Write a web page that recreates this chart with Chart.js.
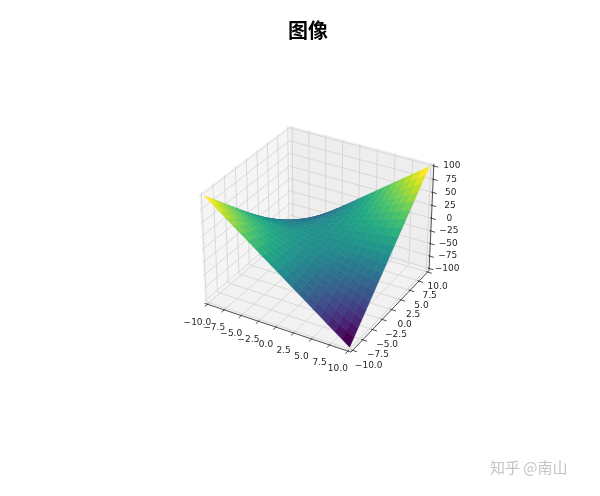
<!DOCTYPE html>
<html>
<head>
<meta charset="utf-8">
<script src="https://cdn.jsdelivr.net/npm/chart.js@4.4.1/dist/chart.umd.min.js"></script>
<style>
  html, body { margin: 0; padding: 0; background: #fff; }
</style>
</head>
<body>
<canvas id="surface-chart" width="600" height="496"></canvas>
<script>
// surface grid: zValues[j][i] is the height at x = xValues[i], y = yValues[j]
const xValues = [-10, -9, -8, -7, -6, -5, -4, -3, -2, -1, 0, 1, 2, 3, 4, 5, 6, 7, 8, 9, 10];
const yValues = [-10, -9, -8, -7, -6, -5, -4, -3, -2, -1, 0, 1, 2, 3, 4, 5, 6, 7, 8, 9, 10];
const zValues = [
  [100, 90, 80, 70, 60, 50, 40, 30, 20, 10, 0, -10, -20, -30, -40, -50, -60, -70, -80, -90, -100],
  [90, 81, 72, 63, 54, 45, 36, 27, 18, 9, 0, -9, -18, -27, -36, -45, -54, -63, -72, -81, -90],
  [80, 72, 64, 56, 48, 40, 32, 24, 16, 8, 0, -8, -16, -24, -32, -40, -48, -56, -64, -72, -80],
  [70, 63, 56, 49, 42, 35, 28, 21, 14, 7, 0, -7, -14, -21, -28, -35, -42, -49, -56, -63, -70],
  [60, 54, 48, 42, 36, 30, 24, 18, 12, 6, 0, -6, -12, -18, -24, -30, -36, -42, -48, -54, -60],
  [50, 45, 40, 35, 30, 25, 20, 15, 10, 5, 0, -5, -10, -15, -20, -25, -30, -35, -40, -45, -50],
  [40, 36, 32, 28, 24, 20, 16, 12, 8, 4, 0, -4, -8, -12, -16, -20, -24, -28, -32, -36, -40],
  [30, 27, 24, 21, 18, 15, 12, 9, 6, 3, 0, -3, -6, -9, -12, -15, -18, -21, -24, -27, -30],
  [20, 18, 16, 14, 12, 10, 8, 6, 4, 2, 0, -2, -4, -6, -8, -10, -12, -14, -16, -18, -20],
  [10, 9, 8, 7, 6, 5, 4, 3, 2, 1, 0, -1, -2, -3, -4, -5, -6, -7, -8, -9, -10],
  [0, 0, 0, 0, 0, 0, 0, 0, 0, 0, 0, 0, 0, 0, 0, 0, 0, 0, 0, 0, 0],
  [-10, -9, -8, -7, -6, -5, -4, -3, -2, -1, 0, 1, 2, 3, 4, 5, 6, 7, 8, 9, 10],
  [-20, -18, -16, -14, -12, -10, -8, -6, -4, -2, 0, 2, 4, 6, 8, 10, 12, 14, 16, 18, 20],
  [-30, -27, -24, -21, -18, -15, -12, -9, -6, -3, 0, 3, 6, 9, 12, 15, 18, 21, 24, 27, 30],
  [-40, -36, -32, -28, -24, -20, -16, -12, -8, -4, 0, 4, 8, 12, 16, 20, 24, 28, 32, 36, 40],
  [-50, -45, -40, -35, -30, -25, -20, -15, -10, -5, 0, 5, 10, 15, 20, 25, 30, 35, 40, 45, 50],
  [-60, -54, -48, -42, -36, -30, -24, -18, -12, -6, 0, 6, 12, 18, 24, 30, 36, 42, 48, 54, 60],
  [-70, -63, -56, -49, -42, -35, -28, -21, -14, -7, 0, 7, 14, 21, 28, 35, 42, 49, 56, 63, 70],
  [-80, -72, -64, -56, -48, -40, -32, -24, -16, -8, 0, 8, 16, 24, 32, 40, 48, 56, 64, 72, 80],
  [-90, -81, -72, -63, -54, -45, -36, -27, -18, -9, 0, 9, 18, 27, 36, 45, 54, 63, 72, 81, 90],
  [-100, -90, -80, -70, -60, -50, -40, -30, -20, -10, 0, 10, 20, 30, 40, 50, 60, 70, 80, 90, 100]
];

// axis ticks
const xTicks = [-10, -7.5, -5, -2.5, 0, 2.5, 5, 7.5, 10];
const yTicks = [-10, -7.5, -5, -2.5, 0, 2.5, 5, 7.5, 10];
const zTicks = [-100, -75, -50, -25, 0, 25, 50, 75, 100];
const xTickLabels = ['−10.0', '−7.5', '−5.0', '−2.5', '0.0', '2.5', '5.0', '7.5', '10.0'];
const yTickLabels = ['−10.0', '−7.5', '−5.0', '−2.5', '0.0', '2.5', '5.0', '7.5', '10.0'];
const zTickLabels = ['−100', '−75', '−50', '−25', '0', '25', '50', '75', '100'];
const xLim = [-10, 10], yLim = [-10, 10], zLim = [-100, 100];

// viridis
const viridis = ['#440154', '#482475', '#414487', '#355f8d', '#2a788e', '#21918c',
                 '#22a884', '#44bf70', '#7ad151', '#bddf26', '#fde725'];
function hexRgb(h) {
    return [parseInt(h.slice(1, 3), 16), parseInt(h.slice(3, 5), 16), parseInt(h.slice(5, 7), 16)];
}
function cmap(t) {
    t = Math.min(1, Math.max(0, t));
    const p = t * 10, i = Math.min(9, Math.floor(p)), f = p - i;
    const a = hexRgb(viridis[i]), b = hexRgb(viridis[i + 1]);
    return 'rgb(' + a.map((c, k) => Math.round(c + (b[k] - c) * f)).join(',') + ')';
}

// 3d view (elev / azim like matplotlib, slight perspective)
const view = { elev: 31, azim: -60, dist: 17.5, scale: 84, cx: 319, cy: 234 };
const aspect = [1, 1, 0.75];
function padLim(lim) { const d = (lim[1] - lim[0]) / 48; return [lim[0] - d, lim[1] + d]; }
const xb = padLim(xLim), yb = padLim(yLim), zb = padLim(zLim);

const e = view.elev * Math.PI / 180, a = view.azim * Math.PI / 180;
const w = [Math.cos(e) * Math.cos(a), Math.cos(e) * Math.sin(a), Math.sin(e)];
const u = [-Math.sin(a), Math.cos(a), 0];
const v = [-Math.sin(e) * Math.cos(a), -Math.sin(e) * Math.sin(a), Math.cos(e)];

function norm3(x, y, z) {
    return [
        (2 * (x - xb[0]) / (xb[1] - xb[0]) - 1) * aspect[0],
        (2 * (y - yb[0]) / (yb[1] - yb[0]) - 1) * aspect[1],
        (2 * (z - zb[0]) / (zb[1] - zb[0]) - 1) * aspect[2]
    ];
}
const dot = (p, q) => p[0] * q[0] + p[1] * q[1] + p[2] * q[2];
function depthOf(x, y, z) { return view.dist - dot(norm3(x, y, z), w); }
function project(x, y, z) {
    const P = norm3(x, y, z);
    const f = view.dist / (view.dist - dot(P, w));
    return { x: view.cx + view.scale * f * dot(P, u), y: view.cy - view.scale * f * dot(P, v) };
}

const datasets = [];
function addPath(pts3, opts) {
    datasets.push(Object.assign({
        data: pts3.map(p => project(p[0], p[1], p[2])),
        showLine: true,
        fill: false,
        pointRadius: 0,
        pointHoverRadius: 0,
        tension: 0,
        borderWidth: 0.8,
        borderColor: '#000'
    }, opts));
}

// panes
const paneFloor = [[xb[0], yb[0], zb[0]], [xb[1], yb[0], zb[0]], [xb[1], yb[1], zb[0]], [xb[0], yb[1], zb[0]], [xb[0], yb[0], zb[0]]];
const paneLeft = [[xb[0], yb[0], zb[0]], [xb[0], yb[1], zb[0]], [xb[0], yb[1], zb[1]], [xb[0], yb[0], zb[1]], [xb[0], yb[0], zb[0]]];
const paneBack = [[xb[0], yb[1], zb[0]], [xb[1], yb[1], zb[0]], [xb[1], yb[1], zb[1]], [xb[0], yb[1], zb[1]], [xb[0], yb[1], zb[0]]];
addPath(paneLeft, { fill: 'shape', backgroundColor: '#f5f5f5', borderColor: '#f5f5f5', borderWidth: 0, order: 30000 });
addPath(paneBack, { fill: 'shape', backgroundColor: '#eeeeee', borderColor: '#eeeeee', borderWidth: 0, order: 30000 });
addPath(paneFloor, { fill: 'shape', backgroundColor: '#f2f2f2', borderColor: '#f2f2f2', borderWidth: 0, order: 30000 });

// grid lines
const gridStyle = { borderColor: '#d2d2d2', borderWidth: 0.8, order: 20000 };
xTicks.forEach(t => {
    addPath([[t, yb[0], zb[0]], [t, yb[1], zb[0]]], gridStyle);
    addPath([[t, yb[1], zb[0]], [t, yb[1], zb[1]]], gridStyle);
});
yTicks.forEach(t => {
    addPath([[xb[0], t, zb[0]], [xb[1], t, zb[0]]], gridStyle);
    addPath([[xb[0], t, zb[0]], [xb[0], t, zb[1]]], gridStyle);
});
zTicks.forEach(t => {
    addPath([[xb[0], yb[0], t], [xb[0], yb[1], t]], gridStyle);
    addPath([[xb[0], yb[1], t], [xb[1], yb[1], t]], gridStyle);
});

// axis lines and tick marks
const axisStyle = { borderColor: '#222', borderWidth: 0.8, order: 10000 };
addPath([[xb[0], yb[0], zb[0]], [xb[1], yb[0], zb[0]]], axisStyle);
addPath([[xb[1], yb[0], zb[0]], [xb[1], yb[1], zb[0]]], axisStyle);
addPath([[xb[1], yb[1], zb[0]], [xb[1], yb[1], zb[1]]], axisStyle);
xTicks.forEach(t => addPath([[t, yb[0] + 0.2, zb[0]], [t, yb[0] - 0.6, zb[0]]], axisStyle));
yTicks.forEach(t => addPath([[xb[1] - 0.2, t, zb[0]], [xb[1] + 0.6, t, zb[0]]], axisStyle));
zTicks.forEach(t => addPath([[xb[1] - 0.2, yb[1], t], [xb[1] + 0.6, yb[1], t]], axisStyle));

// surface faces, coloured by mean height, far faces drawn first
const faces = [];
for (let j = 0; j < yValues.length - 1; j++) {
    for (let i = 0; i < xValues.length - 1; i++) {
        const c = [[i, j], [i + 1, j], [i + 1, j + 1], [i, j + 1]]
            .map(([ii, jj]) => [xValues[ii], yValues[jj], zValues[jj][ii]]);
        faces.push({
            pts: c.concat([c[0]]),
            zMean: c.reduce((s, p) => s + p[2], 0) / 4,
            depth: c.reduce((s, p) => s + depthOf(p[0], p[1], p[2]), 0) / 4
        });
    }
}
const zMin = Math.min(...faces.map(f => f.zMean)), zMax = Math.max(...faces.map(f => f.zMean));
faces.sort((p, q) => q.depth - p.depth);
faces.forEach((f, k) => {
    const col = cmap((f.zMean - zMin) / (zMax - zMin));
    addPath(f.pts, { fill: 'shape', backgroundColor: col, borderColor: col, borderWidth: 0.5, order: faces.length - k });
});

// tick labels and watermark
const textPlugin = {
    id: 'axisText',
    afterDatasetsDraw(chart) {
        const { ctx, scales: { x: sx, y: sy } } = chart;
        const px = p => [sx.getPixelForValue(p.x), sy.getPixelForValue(p.y)];
        ctx.save();
        ctx.font = '9px "DejaVu Sans"';
        ctx.fillStyle = '#262626';
        ctx.textAlign = 'center';
        ctx.textBaseline = 'middle';
        xTicks.forEach((t, i) => {
            const [X, Y] = px(project(t, yb[0], zb[0]));
            ctx.fillText(xTickLabels[i], X - 10, Y + 18);
        });
        yTicks.forEach((t, i) => {
            const [X, Y] = px(project(xb[1], t, zb[0]));
            const k = i / (yTicks.length - 1);
            ctx.fillText(yTickLabels[i], X + 16 - 6 * k, Y + 15);
        });
        zTicks.forEach((t, i) => {
            const [X, Y] = px(project(xb[1], yb[1], t));
            ctx.fillText(zTickLabels[i], X + 18, Y);
        });
        ctx.font = '15px "Noto Sans CJK SC"';
        ctx.fillStyle = '#c4c4c4';
        ctx.textAlign = 'left';
        ctx.fillText('知乎 @南山', 490, 467);
        ctx.restore();
    }
};

const ctx = document.getElementById('surface-chart');
const chart = new Chart(ctx, {
    type: 'line',
    data: { datasets: datasets },
    options: {
        responsive: false,
        animation: false,
        events: [],
        layout: { padding: { left: 16 } },
        plugins: {
            legend: { display: false },
            tooltip: { enabled: false },
            title: {
                display: true,
                text: '图像',
                color: '#000',
                font: { family: '"Noto Sans CJK SC", sans-serif', size: 20, weight: 'bold' },
                padding: { top: 18, bottom: 10 }
            }
        },
        scales: {
            x: { type: 'linear', display: false, min: 16, max: 600 },
            y: { type: 'linear', display: false, min: 52, max: 496, reverse: true }
        }
    },
    plugins: [textPlugin]
});

// make scale values equal to canvas pixels
const area = chart.chartArea;
Object.assign(chart.options.scales.x, { min: area.left, max: area.right });
Object.assign(chart.options.scales.y, { min: area.top, max: area.bottom });
chart.update();
</script>
</body>
</html>
